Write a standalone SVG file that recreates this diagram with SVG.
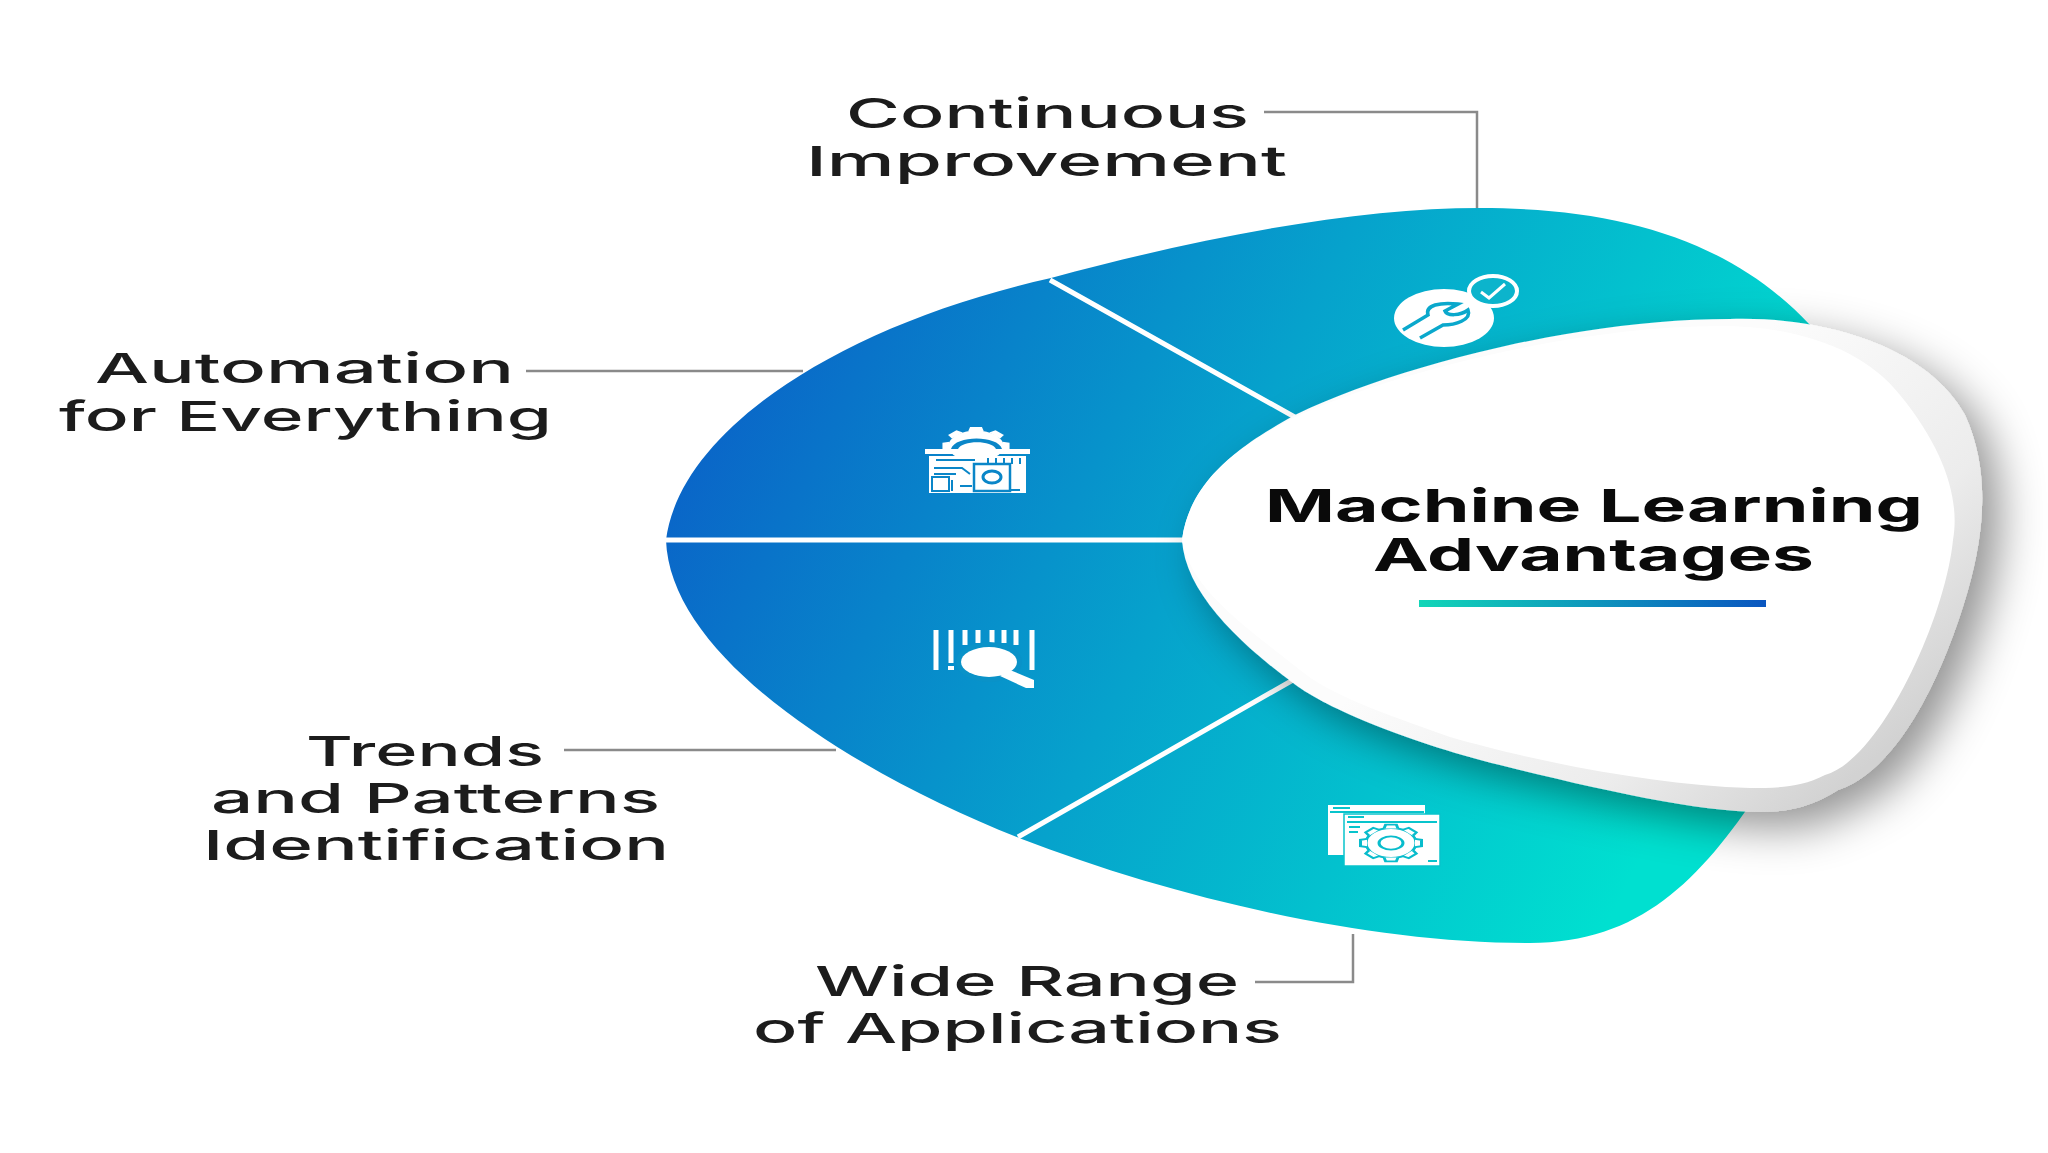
<svg xmlns="http://www.w3.org/2000/svg" xmlns:xlink="http://www.w3.org/1999/xlink" width="2048" height="1153" viewBox="0 0 2048 1153">
<style>
.lb{font-family:Inter,"Open Sans","Liberation Sans",sans-serif;font-size:41px;font-weight:500;fill:#1c1c1c}
.tt{font-family:Inter,"Liberation Sans",sans-serif;font-size:45px;font-weight:700;fill:#0a0a0a}
.cn{fill:none;stroke:#8a8a8a;stroke-width:2.5}
.dv{stroke:#fff;stroke-width:5;fill:none}
.w{fill:#fff}
</style>
<defs>
<linearGradient id="g" gradientUnits="userSpaceOnUse" x1="690" y1="430" x2="1620" y2="900">
<stop offset="0" stop-color="#0a64c8"/><stop offset=".48" stop-color="#06a2cc"/><stop offset="1" stop-color="#00e0d0"/>
</linearGradient>
<linearGradient id="h" x1="0" y1="0" x2="1" y2=".7">
<stop offset=".5" stop-color="#fcfcfc"/><stop offset=".8" stop-color="#ececec"/><stop offset="1" stop-color="#d2d2d2"/>
</linearGradient>
<linearGradient id="u"><stop offset="0" stop-color="#12d6b8"/><stop offset="1" stop-color="#0a56c0"/></linearGradient>
<filter id="s" x="-20%" y="-20%" width="150%" height="155%"><feDropShadow dx="18" dy="16" stdDeviation="22" flood-color="#000" flood-opacity=".42"/></filter>
<path id="t" d="M24,-7L30.5,-5.4L30.5,5.4L24,7"/>
<g id="gear">
<circle r="25"/><use xlink:href="#t"/><use xlink:href="#t" transform="rotate(45)"/><use xlink:href="#t" transform="rotate(90)"/><use xlink:href="#t" transform="rotate(135)"/><use xlink:href="#t" transform="rotate(180)"/><use xlink:href="#t" transform="rotate(225)"/><use xlink:href="#t" transform="rotate(270)"/><use xlink:href="#t" transform="rotate(315)"/>
</g>
</defs>
<rect width="2048" height="1153" fill="#fff"/>
<g id="connectors">
<path class="cn" d="M1264,112H1477V209"/>
<path class="cn" d="M526,371H803"/>
<path class="cn" d="M564,750H836"/>
<path class="cn" d="M1255,982H1353V934"/>
</g>
<g id="wheel">
<path fill="url(#g)" d="M666,540C680,430 840,325 1051,278C1210,235 1360,208 1480,208C1620,208 1730,240 1810,325L1760,790C1700,880 1640,943 1530,943C1370,943 1180,900 1019,838C860,775 670,660 666,540Z"/>
<path class="dv" d="M666,540H1190M1050,280L1300,420M1018,837L1300,676"/>
</g>
<g id="center">
<path fill="url(#h)" filter="url(#s)" d="M1182,540C1190,480 1240,445 1297,414C1400,365 1580,319 1730,319C1830,316 1930,350 1965,415C1990,470 1985,530 1968,590C1945,670 1900,770 1838,790C1810,808 1785,812 1761,812C1700,812 1600,790 1500,765C1400,740 1320,705 1292,682C1235,640 1185,590 1182,540Z"/>
<path class="w" d="M1182,540C1190,480 1240,445 1297,416C1400,370 1580,326 1720,326C1800,326 1865,350 1900,395C1945,450 1960,500 1953,540C1945,620 1880,760 1825,775C1800,788 1775,788 1750,788C1650,785 1530,760 1450,737C1380,712 1330,695 1300,670C1250,630 1190,590 1182,540Z"/>
<text class="tt" x="1265" y="522" textLength="658" lengthAdjust="spacingAndGlyphs">Machine Learning</text>
<text class="tt" x="1373" y="571" textLength="441" lengthAdjust="spacingAndGlyphs">Advantages</text>
<rect x="1419" y="600" width="347" height="7" fill="url(#u)"/>
</g>
<g id="node-continuous">
<text class="lb" x="846" y="128" textLength="403" lengthAdjust="spacingAndGlyphs">Continuous</text>
<text class="lb" x="806" y="176" textLength="481" lengthAdjust="spacingAndGlyphs">Improvement</text>
<ellipse class="w" cx="1444" cy="318" rx="50" ry="29"/>
<path fill="none" stroke="#0aa8cc" stroke-width="3.5" d="M1403,330L1428,315C1425,305 1440,302 1458,304L1445,311C1447,316 1460,316 1468,310C1472,320 1455,325 1443,325L1420,338"/>
<ellipse cx="1493" cy="291" rx="24" ry="15" fill="#0cb4cc" stroke="#fff" stroke-width="4"/>
<path fill="none" stroke="#fff" stroke-width="3" d="M1481,292L1489,298L1505,284"/>
</g>
<g id="node-automation">
<text class="lb" x="95" y="383" textLength="419" lengthAdjust="spacingAndGlyphs">Automation</text>
<text class="lb" x="59" y="431" textLength="493" lengthAdjust="spacingAndGlyphs">for Everything</text>
<g transform="translate(976,446) scale(1.1,.62)" fill="#fff" stroke="none"><circle r="25"/><use xlink:href="#t" fill="#fff"/><use xlink:href="#t" transform="rotate(-45)"/><use xlink:href="#t" transform="rotate(-90)"/><use xlink:href="#t" transform="rotate(-135)"/><use xlink:href="#t" transform="rotate(180)"/></g>
<path d="M951,449C955,435 998,435 1002,449Z" fill="#0a86c8"/>
<path d="M958,449C962,440 992,440 996,449Z" fill="#fff"/>
<rect class="w" x="925" y="449" width="105" height="5"/>
<rect class="w" x="929" y="456" width="97" height="37"/>
<path fill="none" stroke="#0a86c8" stroke-width="2" d="M936,460H975M988,458V464M996,458V464M1004,458V464M1012,458V464M1020,458V464M934,468H962L970,474M934,474H956M952,480V491M986,490H1020M960,486H972"/>
<rect x="932" y="477" width="17" height="14" class="w" stroke="#0a86c8" stroke-width="2"/>
<rect x="974" y="464" width="36" height="27" class="w" stroke="#0a86c8" stroke-width="2.5"/>
<ellipse cx="992" cy="477" rx="9" ry="6" fill="none" stroke="#0a86c8" stroke-width="3"/>
</g>
<g id="node-trends">
<text class="lb" x="306" y="766" textLength="238" lengthAdjust="spacingAndGlyphs">Trends</text>
<text class="lb" x="211" y="813" textLength="449" lengthAdjust="spacingAndGlyphs">and Patterns</text>
<text class="lb" x="203" y="860" textLength="466" lengthAdjust="spacingAndGlyphs">Identification</text>
<path fill="none" stroke="#fff" stroke-width="5" d="M936,630V670M951,630V663M965,630V645M978,630V643M992,630V643M1004,630V643M1016,630V645M1032,630V670"/>
<rect class="w" x="948" y="666" width="6" height="4"/>
<ellipse cx="989" cy="662" rx="33" ry="20" fill="#0a92c8"/>
<ellipse class="w" cx="989" cy="662" rx="28" ry="15"/>
<path class="w" d="M1010,670L1034,680V688H1026L1000,676Z"/>
</g>
<g id="node-wide">
<text class="lb" x="815" y="996" textLength="424" lengthAdjust="spacingAndGlyphs">Wide Range</text>
<text class="lb" x="753" y="1043" textLength="529" lengthAdjust="spacingAndGlyphs">of Applications</text>
<rect class="w" x="1328" y="805" width="97" height="50"/>
<path stroke="#08c4cc" stroke-width="2" fill="none" d="M1330,812H1424M1333,808H1350"/>
<rect class="w" x="1344" y="814" width="96" height="52" stroke="#08c4cc" stroke-width="1.5"/>
<path stroke="#08c4cc" stroke-width="2" fill="none" d="M1348,817H1364M1347,822H1437M1349,827H1360M1349,832H1358M1428,861H1437"/>
<g transform="translate(1391,843) scale(1,.6)" fill="#fff" stroke="#08bccc" stroke-width="3"><use xlink:href="#gear"/><ellipse rx="12" ry="11"/></g>
</g>
</svg>
